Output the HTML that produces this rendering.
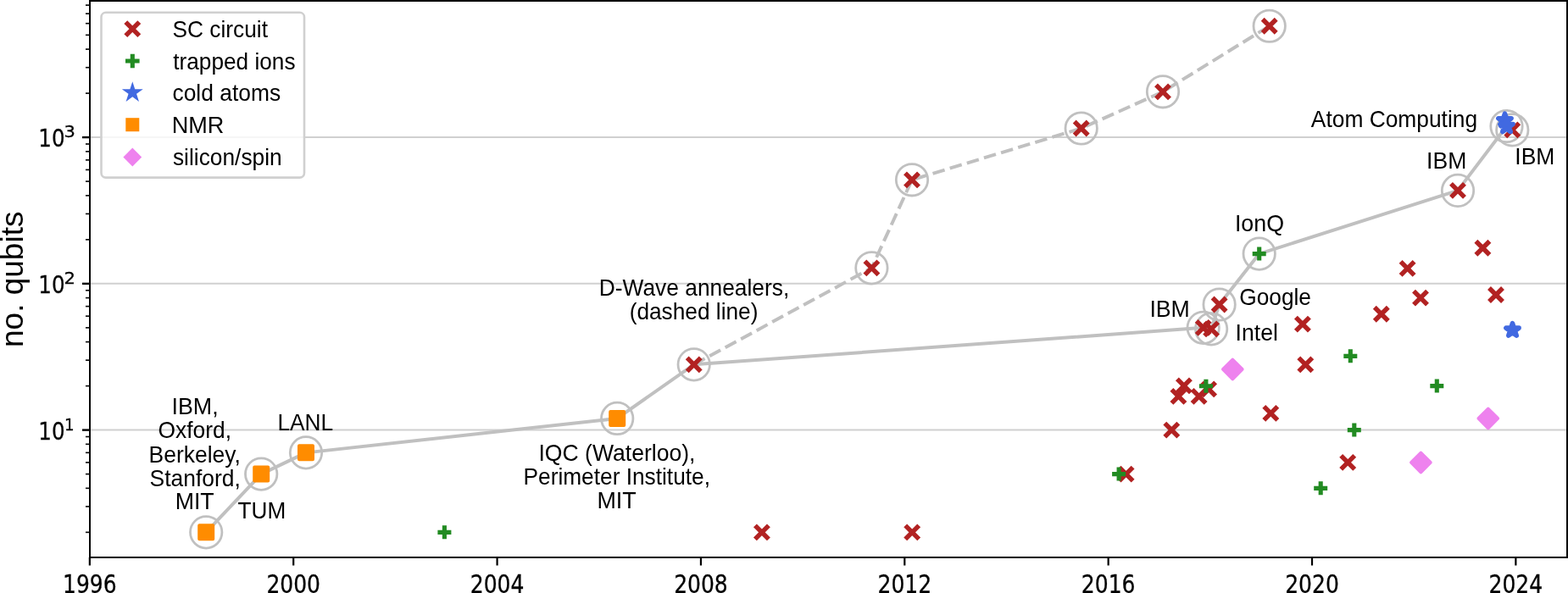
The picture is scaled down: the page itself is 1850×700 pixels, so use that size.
<!DOCTYPE html>
<html><head><meta charset="utf-8"><title>Qubit count over time</title>
<style>html,body{margin:0;padding:0;background:#fff;overflow:hidden;}svg{display:block;}</style>
</head><body>
<svg width="1850" height="700" viewBox="0 0 1850 700">
<rect width="1850" height="700" fill="#fff"/>
<line x1="106.0" y1="507.6" x2="1849.0" y2="507.6" stroke="#d0d0d0" stroke-width="2"/>
<line x1="106.0" y1="334.85" x2="1849.0" y2="334.85" stroke="#d0d0d0" stroke-width="2"/>
<line x1="106.0" y1="162.1" x2="1849.0" y2="162.1" stroke="#d0d0d0" stroke-width="2"/>
<polyline points="243.2,628.35 308.2,559.6 361,534.36 728.2,493.92 818.7,430.35 1419.7,386.85 1429.1,388.37 1438.6,359.5 1485.7,299.59 1720,224.9 1777.5,149 1784.3,153.4" fill="none" stroke="#c0c0c0" stroke-width="3.97" stroke-linejoin="round"/>
<polyline points="818.7,430.35 1028.4,316.33 1076,212.32 1275.7,151.48 1372,108.32 1497.7,30.74" fill="none" stroke="#c0c0c0" stroke-width="3.97" stroke-dasharray="14.69 6.35"/>
<circle cx="243.2" cy="628.35" r="18.7" fill="none" stroke="#c0c0c0" stroke-width="2.8"/>
<circle cx="308.2" cy="559.6" r="18.7" fill="none" stroke="#c0c0c0" stroke-width="2.8"/>
<circle cx="361" cy="534.36" r="18.7" fill="none" stroke="#c0c0c0" stroke-width="2.8"/>
<circle cx="728.2" cy="493.92" r="18.7" fill="none" stroke="#c0c0c0" stroke-width="2.8"/>
<circle cx="818.7" cy="430.35" r="18.7" fill="none" stroke="#c0c0c0" stroke-width="2.8"/>
<circle cx="1028.4" cy="316.33" r="18.7" fill="none" stroke="#c0c0c0" stroke-width="2.8"/>
<circle cx="1076" cy="212.32" r="18.7" fill="none" stroke="#c0c0c0" stroke-width="2.8"/>
<circle cx="1275.7" cy="151.48" r="18.7" fill="none" stroke="#c0c0c0" stroke-width="2.8"/>
<circle cx="1372" cy="108.32" r="18.7" fill="none" stroke="#c0c0c0" stroke-width="2.8"/>
<circle cx="1497.7" cy="30.74" r="18.7" fill="none" stroke="#c0c0c0" stroke-width="2.8"/>
<circle cx="1419.7" cy="386.85" r="18.7" fill="none" stroke="#c0c0c0" stroke-width="2.8"/>
<circle cx="1429.1" cy="388.37" r="18.7" fill="none" stroke="#c0c0c0" stroke-width="2.8"/>
<circle cx="1438.6" cy="359.5" r="18.7" fill="none" stroke="#c0c0c0" stroke-width="2.8"/>
<circle cx="1485.7" cy="299.59" r="18.7" fill="none" stroke="#c0c0c0" stroke-width="2.8"/>
<circle cx="1720" cy="224.9" r="18.7" fill="none" stroke="#c0c0c0" stroke-width="2.8"/>
<circle cx="1777.5" cy="149" r="18.7" fill="none" stroke="#c0c0c0" stroke-width="2.8"/>
<circle cx="1784.3" cy="153.4" r="18.7" fill="none" stroke="#c0c0c0" stroke-width="2.8"/>
<path d="M810.7 422.35L826.7 438.35M810.7 438.35L826.7 422.35" stroke="#b22222" stroke-width="5.5" fill="none"/>
<path d="M1020.4 308.33L1036.4 324.33M1020.4 324.33L1036.4 308.33" stroke="#b22222" stroke-width="5.5" fill="none"/>
<path d="M1068 204.32L1084 220.32M1068 220.32L1084 204.32" stroke="#b22222" stroke-width="5.5" fill="none"/>
<path d="M1267.7 143.48L1283.7 159.48M1267.7 159.48L1283.7 143.48" stroke="#b22222" stroke-width="5.5" fill="none"/>
<path d="M1364 100.32L1380 116.32M1364 116.32L1380 100.32" stroke="#b22222" stroke-width="5.5" fill="none"/>
<path d="M1489.7 22.74L1505.7 38.74M1489.7 38.74L1505.7 22.74" stroke="#b22222" stroke-width="5.5" fill="none"/>
<path d="M1411.7 378.85L1427.7 394.85M1411.7 394.85L1427.7 378.85" stroke="#b22222" stroke-width="5.5" fill="none"/>
<path d="M1421.1 380.37L1437.1 396.37M1421.1 396.37L1437.1 380.37" stroke="#b22222" stroke-width="5.5" fill="none"/>
<path d="M1430.6 351.5L1446.6 367.5M1430.6 367.5L1446.6 351.5" stroke="#b22222" stroke-width="5.5" fill="none"/>
<path d="M1712 216.9L1728 232.9M1712 232.9L1728 216.9" stroke="#b22222" stroke-width="5.5" fill="none"/>
<path d="M1776.3 145.4L1792.3 161.4M1776.3 161.4L1792.3 145.4" stroke="#b22222" stroke-width="5.5" fill="none"/>
<path d="M890.9 620.35L906.9 636.35M890.9 636.35L906.9 620.35" stroke="#b22222" stroke-width="5.5" fill="none"/>
<path d="M1068.2 620.35L1084.2 636.35M1068.2 636.35L1084.2 620.35" stroke="#b22222" stroke-width="5.5" fill="none"/>
<path d="M1320.6 551.6L1336.6 567.6M1320.6 567.6L1336.6 551.6" stroke="#b22222" stroke-width="5.5" fill="none"/>
<path d="M1374.3 499.6L1390.3 515.6M1374.3 515.6L1390.3 499.6" stroke="#b22222" stroke-width="5.5" fill="none"/>
<path d="M1382.4 459.9L1398.4 475.9M1382.4 475.9L1398.4 459.9" stroke="#b22222" stroke-width="5.5" fill="none"/>
<path d="M1388.9 447.4L1404.9 463.4M1388.9 463.4L1404.9 447.4" stroke="#b22222" stroke-width="5.5" fill="none"/>
<path d="M1406.6 459.9L1422.6 475.9M1406.6 475.9L1422.6 459.9" stroke="#b22222" stroke-width="5.5" fill="none"/>
<path d="M1418.1 451.4L1434.1 467.4M1418.1 467.4L1434.1 451.4" stroke="#b22222" stroke-width="5.5" fill="none"/>
<path d="M1491.3 479.92L1507.3 495.92M1491.3 495.92L1507.3 479.92" stroke="#b22222" stroke-width="5.5" fill="none"/>
<path d="M1528.9 374.6L1544.9 390.6M1528.9 390.6L1544.9 374.6" stroke="#b22222" stroke-width="5.5" fill="none"/>
<path d="M1532.3 422.35L1548.3 438.35M1532.3 438.35L1548.3 422.35" stroke="#b22222" stroke-width="5.5" fill="none"/>
<path d="M1582.2 537.92L1598.2 553.92M1582.2 553.92L1598.2 537.92" stroke="#b22222" stroke-width="5.5" fill="none"/>
<path d="M1621.8 362.71L1637.8 378.71M1621.8 378.71L1637.8 362.71" stroke="#b22222" stroke-width="5.5" fill="none"/>
<path d="M1652.6 308.92L1668.6 324.92M1652.6 324.92L1668.6 308.92" stroke="#b22222" stroke-width="5.5" fill="none"/>
<path d="M1668 343.59L1684 359.59M1668 359.59L1684 343.59" stroke="#b22222" stroke-width="5.5" fill="none"/>
<path d="M1741.4 284.7L1757.4 300.7M1741.4 300.7L1757.4 284.7" stroke="#b22222" stroke-width="5.5" fill="none"/>
<path d="M1757 340L1773 356M1757 356L1773 340" stroke="#b22222" stroke-width="5.5" fill="none"/>
<path d="M516.4 628.35H532.4M524.4 620.35V636.35" stroke="#228b22" stroke-width="5.1" fill="none"/>
<path d="M1312.1 559.6H1328.1M1320.1 551.6V567.6" stroke="#228b22" stroke-width="5.1" fill="none"/>
<path d="M1414.9 455.7H1430.9M1422.9 447.7V463.7" stroke="#228b22" stroke-width="5.1" fill="none"/>
<path d="M1550.2 576.34H1566.2M1558.2 568.34V584.34" stroke="#228b22" stroke-width="5.1" fill="none"/>
<path d="M1585.3 420.34H1601.3M1593.3 412.34V428.34" stroke="#228b22" stroke-width="5.1" fill="none"/>
<path d="M1589.8 507.6H1605.8M1597.8 499.6V515.6" stroke="#228b22" stroke-width="5.1" fill="none"/>
<path d="M1687.3 455.6H1703.3M1695.3 447.6V463.6" stroke="#228b22" stroke-width="5.1" fill="none"/>
<path d="M1477.7 299.59H1493.7M1485.7 291.59V307.59" stroke="#228b22" stroke-width="5.1" fill="none"/>
<polygon points="1784.5,381.6 1786.3,387.13 1792.11,387.13 1787.41,390.54 1789.2,396.07 1784.5,392.66 1779.8,396.07 1781.59,390.54 1776.89,387.13 1782.7,387.13" fill="#4169e1" stroke="#4169e1" stroke-width="5.6" stroke-linejoin="round"/>
<polygon points="1775.5,134.2 1777.3,139.73 1783.11,139.73 1778.41,143.14 1780.2,148.67 1775.5,145.26 1770.8,148.67 1772.59,143.14 1767.89,139.73 1773.7,139.73" fill="#4169e1" stroke="#4169e1" stroke-width="5.6" stroke-linejoin="round"/>
<polygon points="1777.5,141 1779.3,146.53 1785.11,146.53 1780.41,149.94 1782.2,155.47 1777.5,152.06 1772.8,155.47 1774.59,149.94 1769.89,146.53 1775.7,146.53" fill="#4169e1" stroke="#4169e1" stroke-width="5.6" stroke-linejoin="round"/>
<rect x="235.2" y="620.35" width="16" height="16" fill="#ff8c00" stroke="#ff8c00" stroke-width="4.0" stroke-linejoin="round"/>
<rect x="300.2" y="551.6" width="16" height="16" fill="#ff8c00" stroke="#ff8c00" stroke-width="4.0" stroke-linejoin="round"/>
<rect x="353" y="526.36" width="16" height="16" fill="#ff8c00" stroke="#ff8c00" stroke-width="4.0" stroke-linejoin="round"/>
<rect x="720.2" y="485.92" width="16" height="16" fill="#ff8c00" stroke="#ff8c00" stroke-width="4.0" stroke-linejoin="round"/>
<polygon points="1454.3,424.56 1465.65,435.91 1454.3,447.26 1442.95,435.91" fill="#ee82ee" stroke="#ee82ee" stroke-width="4.0" stroke-linejoin="round"/>
<polygon points="1676.4,534.57 1687.75,545.92 1676.4,557.27 1665.05,545.92" fill="#ee82ee" stroke="#ee82ee" stroke-width="4.0" stroke-linejoin="round"/>
<polygon points="1755.8,482.57 1767.15,493.92 1755.8,505.27 1744.45,493.92" fill="#ee82ee" stroke="#ee82ee" stroke-width="4.0" stroke-linejoin="round"/>
<g font-family='"Liberation Sans", Arial, Helvetica, sans-serif' fill="#000">
<text transform="translate(202.5 489.4) scale(1.0010 1.025)" font-size="26.8">IBM,</text>
<text transform="translate(186.57 517.4) scale(0.9840 1.025)" font-size="26.8">Oxford,</text>
<text transform="translate(175.58 545.5) scale(0.9867 1.025)" font-size="26.8">Berkeley,</text>
<text transform="translate(176.57 573.5) scale(0.9867 1.025)" font-size="26.8">Stanford,</text>
<text transform="translate(206.65 601.4) scale(0.9988 1.025)" font-size="26.8">MIT</text>
<text transform="translate(280.51 612.4) scale(0.9774 1.025)" font-size="26.8">TUM</text>
<text transform="translate(327.39 507.6) scale(0.9812 1.025)" font-size="26.8">LANL</text>
<text transform="translate(635.42 543.8) scale(0.9920 1.025)" font-size="26.8">IQC (Waterloo),</text>
<text transform="translate(617.49 572) scale(0.9807 1.025)" font-size="26.8">Perimeter Institute,</text>
<text transform="translate(704.44 600.1) scale(1.0035 1.025)" font-size="26.8">MIT</text>
<text transform="translate(706.79 348.8) scale(0.9828 1.025)" font-size="26.8">D-Wave annealers,</text>
<text transform="translate(742.68 377.4) scale(0.9802 1.025)" font-size="26.8">(dashed line)</text>
<text transform="translate(1356.41 373.7) scale(0.9953 1.025)" font-size="26.8">IBM</text>
<text transform="translate(1462.28 360) scale(0.9798 1.025)" font-size="26.8">Google</text>
<text transform="translate(1457.62 401.8) scale(0.9924 1.025)" font-size="26.8">Intel</text>
<text transform="translate(1456.9 273.3) scale(1.0009 1.025)" font-size="26.8">IonQ</text>
<text transform="translate(1683.12 198.9) scale(0.9919 1.025)" font-size="26.8">IBM</text>
<text transform="translate(1546.85 149.7) scale(0.9833 1.025)" font-size="26.8">Atom Computing</text>
<text transform="translate(1787.28 193.5) scale(0.9884 1.025)" font-size="26.8">IBM</text>
</g>
<rect x="106.0" y="1.0" width="1743.0" height="657.0" fill="none" stroke="#000" stroke-width="2"/>
<g stroke="#000">
<line x1="105.85" y1="658.0" x2="105.85" y2="667.5" stroke-width="2.2"/>
<line x1="346.21" y1="658.0" x2="346.21" y2="667.5" stroke-width="2.2"/>
<line x1="586.57" y1="658.0" x2="586.57" y2="667.5" stroke-width="2.2"/>
<line x1="826.93" y1="658.0" x2="826.93" y2="667.5" stroke-width="2.2"/>
<line x1="1067.29" y1="658.0" x2="1067.29" y2="667.5" stroke-width="2.2"/>
<line x1="1307.65" y1="658.0" x2="1307.65" y2="667.5" stroke-width="2.2"/>
<line x1="1548.01" y1="658.0" x2="1548.01" y2="667.5" stroke-width="2.2"/>
<line x1="1788.37" y1="658.0" x2="1788.37" y2="667.5" stroke-width="2.2"/>
<line x1="101.0" y1="628.35" x2="106.0" y2="628.35" stroke-width="1.6"/>
<line x1="101.0" y1="597.93" x2="106.0" y2="597.93" stroke-width="1.6"/>
<line x1="101.0" y1="576.34" x2="106.0" y2="576.34" stroke-width="1.6"/>
<line x1="101.0" y1="559.6" x2="106.0" y2="559.6" stroke-width="1.6"/>
<line x1="101.0" y1="545.92" x2="106.0" y2="545.92" stroke-width="1.6"/>
<line x1="101.0" y1="534.36" x2="106.0" y2="534.36" stroke-width="1.6"/>
<line x1="101.0" y1="524.34" x2="106.0" y2="524.34" stroke-width="1.6"/>
<line x1="101.0" y1="515.5" x2="106.0" y2="515.5" stroke-width="1.6"/>
<line x1="97.0" y1="507.6" x2="106.0" y2="507.6" stroke-width="2.4"/>
<line x1="101.0" y1="455.6" x2="106.0" y2="455.6" stroke-width="1.6"/>
<line x1="101.0" y1="425.18" x2="106.0" y2="425.18" stroke-width="1.6"/>
<line x1="101.0" y1="403.59" x2="106.0" y2="403.59" stroke-width="1.6"/>
<line x1="101.0" y1="386.85" x2="106.0" y2="386.85" stroke-width="1.6"/>
<line x1="101.0" y1="373.17" x2="106.0" y2="373.17" stroke-width="1.6"/>
<line x1="101.0" y1="361.61" x2="106.0" y2="361.61" stroke-width="1.6"/>
<line x1="101.0" y1="351.59" x2="106.0" y2="351.59" stroke-width="1.6"/>
<line x1="101.0" y1="342.75" x2="106.0" y2="342.75" stroke-width="1.6"/>
<line x1="97.0" y1="334.85" x2="106.0" y2="334.85" stroke-width="2.4"/>
<line x1="101.0" y1="282.85" x2="106.0" y2="282.85" stroke-width="1.6"/>
<line x1="101.0" y1="252.43" x2="106.0" y2="252.43" stroke-width="1.6"/>
<line x1="101.0" y1="230.84" x2="106.0" y2="230.84" stroke-width="1.6"/>
<line x1="101.0" y1="214.1" x2="106.0" y2="214.1" stroke-width="1.6"/>
<line x1="101.0" y1="200.42" x2="106.0" y2="200.42" stroke-width="1.6"/>
<line x1="101.0" y1="188.86" x2="106.0" y2="188.86" stroke-width="1.6"/>
<line x1="101.0" y1="178.84" x2="106.0" y2="178.84" stroke-width="1.6"/>
<line x1="101.0" y1="170" x2="106.0" y2="170" stroke-width="1.6"/>
<line x1="97.0" y1="162.1" x2="106.0" y2="162.1" stroke-width="2.4"/>
<line x1="101.0" y1="110.1" x2="106.0" y2="110.1" stroke-width="1.6"/>
<line x1="101.0" y1="79.68" x2="106.0" y2="79.68" stroke-width="1.6"/>
<line x1="101.0" y1="58.09" x2="106.0" y2="58.09" stroke-width="1.6"/>
<line x1="101.0" y1="41.35" x2="106.0" y2="41.35" stroke-width="1.6"/>
<line x1="101.0" y1="27.67" x2="106.0" y2="27.67" stroke-width="1.6"/>
<line x1="101.0" y1="16.11" x2="106.0" y2="16.11" stroke-width="1.6"/>
<line x1="101.0" y1="6.09" x2="106.0" y2="6.09" stroke-width="1.6"/>
</g>
<g font-family='"DejaVu Sans", "Liberation Sans", sans-serif' fill="#000" stroke="#000" stroke-width="0.3">
<text transform="translate(105.85 699.7) scale(0.8333 0.9802)" text-anchor="middle" font-size="30">1996</text>
<text transform="translate(346.21 699.7) scale(0.8333 0.9802)" text-anchor="middle" font-size="30">2000</text>
<text transform="translate(586.57 699.7) scale(0.8333 0.9802)" text-anchor="middle" font-size="30">2004</text>
<text transform="translate(826.93 699.7) scale(0.8333 0.9802)" text-anchor="middle" font-size="30">2008</text>
<text transform="translate(1067.29 699.7) scale(0.8333 0.9802)" text-anchor="middle" font-size="30">2012</text>
<text transform="translate(1307.65 699.7) scale(0.8333 0.9802)" text-anchor="middle" font-size="30">2016</text>
<text transform="translate(1548.01 699.7) scale(0.8333 0.9802)" text-anchor="middle" font-size="30">2020</text>
<text transform="translate(1788.37 699.7) scale(0.8333 0.9802)" text-anchor="middle" font-size="30">2024</text>
<text transform="translate(45.34 518.62) scale(0.8182 0.9689)" font-size="30">10</text>
<text transform="translate(75.94 508) scale(0.9143 1.0138)" font-size="20">1</text>
<text transform="translate(45.34 345.87) scale(0.8182 0.9689)" font-size="30">10</text>
<text transform="translate(75.51 335.25) scale(1.0595 0.9800)" font-size="20">2</text>
<text transform="translate(45.34 173.12) scale(0.8182 0.9689)" font-size="30">10</text>
<text transform="translate(75.52 162.26) scale(1.0526 0.9639)" font-size="20">3</text>
</g>
<text transform="translate(27 410) rotate(-90)" font-family='"Liberation Sans", Arial, Helvetica, sans-serif' font-size="37">no. qubits</text>
<rect x="119.5" y="14.8" width="239.5" height="194.8" rx="5.4" fill="#fff" fill-opacity="0.8" stroke="#d0d0d0" stroke-width="2.6"/>
<path d="M148.3 26.1L164.3 42.1M148.3 42.1L164.3 26.1" stroke="#b22222" stroke-width="5.5" fill="none"/>
<path d="M148 72H164.6M156.3 63.7V80.3" stroke="#228b22" stroke-width="5.1" fill="none"/>
<polygon points="156.3,96.2 159.24,105.25 168.76,105.25 161.06,110.85 164,119.9 156.3,114.3 148.6,119.9 151.54,110.85 143.84,105.25 153.36,105.25" fill="#4169e1"/>
<rect x="148.3" y="139.2" width="16" height="16" fill="#ff8c00"/>
<polygon points="156.3,174.6 167.2,185.5 156.3,196.4 145.4,185.5" fill="#ee82ee"/>
<g font-family='"Liberation Sans", Arial, Helvetica, sans-serif' fill="#000">
<text transform="translate(203.47 44.1) scale(0.9819 1.025)" font-size="26.8">SC circuit</text>
<text transform="translate(204.21 81.6) scale(0.9788 1.025)" font-size="26.8">trapped ions</text>
<text transform="translate(203.47 119.2) scale(0.9855 1.025)" font-size="26.8">cold atoms</text>
<text transform="translate(202.63 156.8) scale(1.0104 1.025)" font-size="26.8">NMR</text>
<text transform="translate(203.96 194.5) scale(0.9821 1.025)" font-size="26.8">silicon/spin</text>
</g>
</svg>
</body></html>
